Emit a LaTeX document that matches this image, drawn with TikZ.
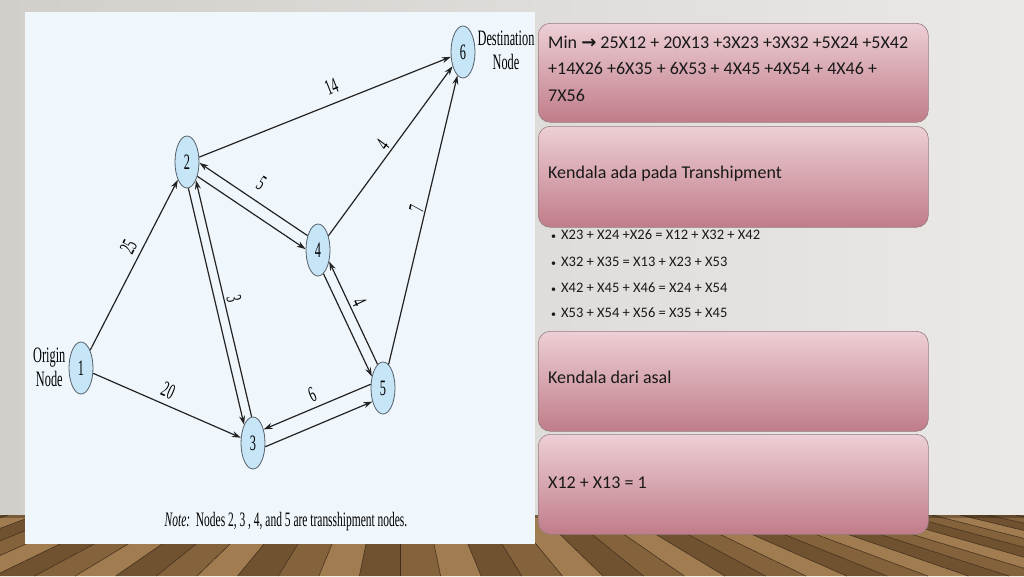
\documentclass[tikz,border=0pt]{standalone}
\usepackage{fontspec}
\setmainfont{Liberation Serif}
\newfontfamily\netfont[FakeStretch=0.56]{Liberation Serif}
\newfontfamily\slidefont{Carlito}
\newfontfamily\symfont{DejaVu Sans}
\usetikzlibrary{
  arrows.meta,
  positioning,
  shapes.geometric
}
\definecolor{wallleft}{RGB}{210,207,202}
\definecolor{wallright}{RGB}{234,233,230}
\definecolor{panelblue}{RGB}{240,247,252}
\definecolor{nodeblue}{RGB}{198,229,247}
\definecolor{nodeedge}{RGB}{85,95,105}
\definecolor{arcgray}{RGB}{35,35,35}
\definecolor{pinktop}{RGB}{237,207,213}
\definecolor{pinkbottom}{RGB}{192,124,137}
\definecolor{boxedge}{RGB}{150,125,130}
\definecolor{slidetext}{RGB}{25,25,25}
\definecolor{woodA}{RGB}{132,98,60}
\definecolor{woodB}{RGB}{160,124,80}
\definecolor{woodC}{RGB}{112,82,48}
\definecolor{woodseam}{RGB}{66,46,26}

\begin{document}
\begin{tikzpicture}[x=1pt, y=-1pt,
  netnode/.style={ellipse, draw=nodeedge, line width=0.8pt, fill=nodeblue,
    minimum width=24pt, minimum height=52pt, inner sep=0pt,
    font=\netfont\fontsize{22}{24}\selectfont},
  arc/.style={draw=arcgray, line width=1.2pt, -{Stealth[length=9pt,width=6pt]}},
  wlabel/.style={font=\netfont\fontsize{22}{24}\selectfont, sloped, inner sep=0pt},
  sidelabel/.style={font=\netfont\fontsize{22}{24}\selectfont, align=center, inner sep=0pt},
  pinkbox/.style={rounded corners=12pt, draw=boxedge, line width=0.6pt,
    top color=pinktop, bottom color=pinkbottom, minimum width=390pt,
    inner sep=0pt, anchor=north west},
  boxtext/.style={font=\slidefont\fontsize{18}{22}\selectfont, text=slidetext,
    inner sep=0pt, anchor=base west},
  bullettext/.style={font=\slidefont\fontsize{14.5}{18}\selectfont, text=slidetext,
    inner sep=0pt, anchor=base west}]
  \useasboundingbox (0,0) rectangle (1024,576);

  % Wall and floor
  \shade[left color=wallleft, right color=wallright] (0,0) rectangle (1024,515);
  \begin{scope}
    \clip (0,515) rectangle (1024,576);
    \foreach \k in {-17,...,24} {
      \pgfmathsetmacro{\xa}{400+\k*28}
      \pgfmathsetmacro{\xb}{400+(\k+1)*28}
      \pgfmathsetmacro{\xc}{400+(\k+1)*28*1.45}
      \pgfmathsetmacro{\xd}{400+\k*28*1.45}
      \pgfmathtruncatemacro{\m}{mod(\k+30,3)}
      \ifcase\m \def\wc{woodA}\or \def\wc{woodB}\else \def\wc{woodC}\fi
      \fill[\wc] (\xa,515) -- (\xb,515) -- (\xc,576) -- (\xd,576) -- cycle;
      \draw[woodseam, line width=0.6pt] (\xa,515) -- (\xd,576);
    }
    \fill[black, opacity=0.25] (0,515) rectangle (1024,518);
  \end{scope}

  % Picture panel
  \fill[panelblue] (25,12) rectangle (535,544);

  % Nodes
  \node[netnode] (n1) at (81,368) {1};
  \node[netnode] (n2) at (187,162) {2};
  \node[netnode] (n3) at (253,443) {3};
  \node[netnode] (n4) at (318,250) {4};
  \node[netnode] (n5) at (383,388) {5};
  \node[netnode] (n6) at (463,52) {6};
  \node[sidelabel, anchor=east] (orig) at ([xshift=-3pt,yshift=1pt]n1.west) {Origin\\Node};
  \node[sidelabel, anchor=west] (dest) at ([xshift=2pt,yshift=2pt]n6.east) {Destination\\Node};

  % Single arcs
  \draw[arc] (n1) -- node[wlabel, above=5pt, pos=0.57] (w12) {25} (n2);
  \draw[arc] (n1) -- node[wlabel, above=6pt, pos=0.47] (w13) {20} (n3);
  \draw[arc] (n2) -- node[wlabel, above=9pt, pos=0.55] (w26) {14} (n6);
  \draw[arc] (n4) -- node[wlabel, above=2pt, pos=0.5] (w46) {4} (n6);
  \draw[arc] (n5) -- node[wlabel, above=1pt, pos=0.53] (w56) {7} (n6);

  % Arc pairs
  \draw[arc] (n4.126) -- node[wlabel, above=10pt, pos=0.52] (w24) {5} (n2.-4);
  \draw[arc] (n2.-54) -- (n4.176);
  \draw[arc] (n3.93) -- node[wlabel, above=2pt, pos=0.49] (w23) {3} (n2.-64);
  \draw[arc] (n2.-87) -- (n3.116);
  \draw[arc] (n5.103) -- node[wlabel, above=2pt, pos=0.56] (w45) {4} (n4.-46);
  \draw[arc] (n4.-77) -- (n5.134);
  \draw[arc] (n5.163) -- node[wlabel, above=5pt, pos=0.5] (w35) {6} (n3.52);
  \draw[arc] (n3.-17) -- (n5.232);

  % Note
  \node[font=\netfont\fontsize{20.5}{22}\selectfont, inner sep=0pt] (note) at (286,522)
    {\textit{Note:}\ \ Nodes 2, 3 , 4, and 5 are transshipment nodes.};

  % Boxes
  \node[pinkbox, minimum height=99pt] (fobj) at (538,23) {};
  \node[pinkbox, minimum height=101pt] (ktrans) at (538,126) {};
  \node[pinkbox, minimum height=100pt] (kasal) at (538,331) {};
  \node[pinkbox, minimum height=100pt] (asaleq) at (538,434) {};

  % Box texts
  \node[boxtext] (obj1) at (548,48)
    {Min {\symfont\bfseries →} 25X12 + 20X13 +3X23 +3X32 +5X24 +5X42};
  \node[boxtext] (obj2) at (548,74.5) {+14X26 +6X35 + 6X53 + 4X45 +4X54 + 4X46 +};
  \node[boxtext] (obj3) at (548,101) {7X56};
  \node[boxtext] (trans) at (548,178) {Kendala ada pada Transhipment};
  \node[boxtext] (asal) at (548,383) {Kendala dari asal};
  \node[boxtext] (asal1) at (548,488) {X12 + X13 = 1};

  % Transhipment constraints
  \node[bullettext] (c2) at (551,239.5)
    {\makebox[10pt][l]{\fontsize{10}{10}\selectfont •}X23 + X24 +X26 = X12 + X32 + X42};
  \node[bullettext] (c3) at (551,266.5)
    {\makebox[10pt][l]{\fontsize{10}{10}\selectfont •}X32 + X35 = X13 + X23 + X53};
  \node[bullettext] (c4) at (551,292.5)
    {\makebox[10pt][l]{\fontsize{10}{10}\selectfont •}X42 + X45 + X46 = X24 + X54};
  \node[bullettext] (c5) at (551,317.5)
    {\makebox[10pt][l]{\fontsize{10}{10}\selectfont •}X53 + X54 + X56 = X35 + X45};
\end{tikzpicture}
\end{document}
